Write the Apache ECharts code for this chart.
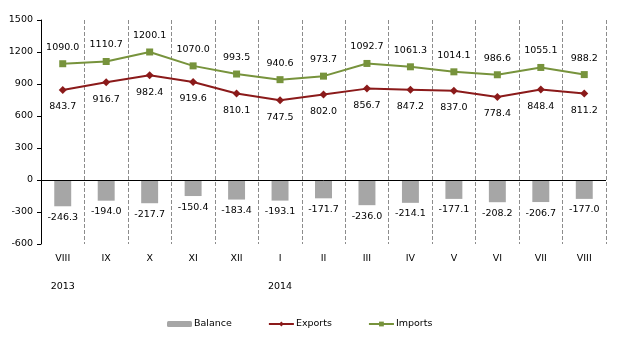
<!DOCTYPE html>
<html>
<head>
<meta charset="utf-8">
<script src="https://cdn.jsdelivr.net/npm/echarts@6/dist/echarts.min.js"></script>
<style>
  html, body { margin: 0; padding: 0; background: #fff; }
  #chart { width: 619px; height: 340px; }
</style>
</head>
<body>
<div id="chart"></div>
<script>
// Monthly trade figures, Aug 2013 - Aug 2014
const months = ['VIII', 'IX', 'X', 'XI', 'XII', 'I', 'II', 'III', 'IV', 'V', 'VI', 'VII', 'VIII'];
const years = ['2013', '', '', '', '', '2014', '', '', '', '', '', '', ''];
const balance = [-246.3, -194.0, -217.7, -150.4, -183.4, -193.1, -171.7, -236.0, -214.1, -177.1, -208.2, -206.7, -177.0];
const exportsVals = [843.7, 916.7, 982.4, 919.6, 810.1, 747.5, 802.0, 856.7, 847.2, 837.0, 778.4, 848.4, 811.2];
const importsVals = [1090.0, 1110.7, 1200.1, 1070.0, 993.5, 940.6, 973.7, 1092.7, 1061.3, 1014.1, 986.6, 1055.1, 988.2];
const yTicks = { min: -600, max: 1500, step: 300 };

const FONT = 'DejaVu Sans';
const fmt = p => p.value.toFixed(1);

const chart = echarts.init(document.getElementById('chart'), null, { renderer: 'canvas' });
chart.setOption({
  animation: false,
  textStyle: { fontFamily: FONT, color: '#000' },
  grid: { left: 41, right: 13, top: 20, bottom: 96 },
  legend: {
    top: 314,
    left: 162,
    itemWidth: 25,
    itemHeight: 6,
    itemGap: 36,
    textStyle: { fontFamily: FONT, fontSize: 9.5, color: '#000', padding: [0, 0, 0, -3] },
    data: ['Balance', 'Exports', 'Imports']
  },
  xAxis: {
    type: 'category',
    data: months.map((m, i) => years[i] ? m + '\n\n' + years[i] : m),
    boundaryGap: true,
    axisLine: { show: false },
    axisTick: { show: false },
    axisLabel: { fontFamily: FONT, fontSize: 9.5, color: '#000', lineHeight: 14, margin: 8, interval: 0, verticalAlign: 'top' },
    splitLine: { show: true, interval: 0, lineStyle: { color: '#8c8c8c', type: [4, 2], width: 1 } }
  },
  yAxis: {
    type: 'value',
    min: yTicks.min,
    max: yTicks.max,
    interval: yTicks.step,
    axisLine: { show: true, lineStyle: { color: '#000', width: 1 } },
    axisTick: { show: true, length: 4, lineStyle: { color: '#000' } },
    axisLabel: { fontFamily: FONT, fontSize: 9.5, color: '#000', margin: 8, formatter: v => String(v) },
    splitLine: { show: false }
  },
  series: [
    {
      name: 'Balance',
      type: 'bar',
      data: balance,
      barWidth: '39%',
      itemStyle: { color: '#a6a6a6' },
      label: { show: true, position: 'bottom', distance: 6, formatter: fmt, fontFamily: FONT, fontSize: 9.5, color: '#000' },
      markLine: {
        silent: true,
        symbol: 'none',
        label: { show: false },
        lineStyle: { color: '#000', type: 'solid', width: 1 },
        data: [{ yAxis: 0 }]
      }
    },
    {
      name: 'Exports',
      type: 'line',
      data: exportsVals,
      symbol: 'diamond',
      symbolSize: 8,
      lineStyle: { color: '#8b1a1a', width: 2 },
      itemStyle: { color: '#8b1a1a' },
      label: { show: true, position: 'bottom', distance: 8, formatter: fmt, fontFamily: FONT, fontSize: 9.5, color: '#000' }
    },
    {
      name: 'Imports',
      type: 'line',
      data: importsVals,
      symbol: 'rect',
      symbolSize: 7,
      lineStyle: { color: '#77933c', width: 2 },
      itemStyle: { color: '#77933c' },
      label: { show: true, position: 'top', distance: 8, formatter: fmt, fontFamily: FONT, fontSize: 9.5, color: '#000' }
    }
  ]
});
</script>
</body>
</html>
